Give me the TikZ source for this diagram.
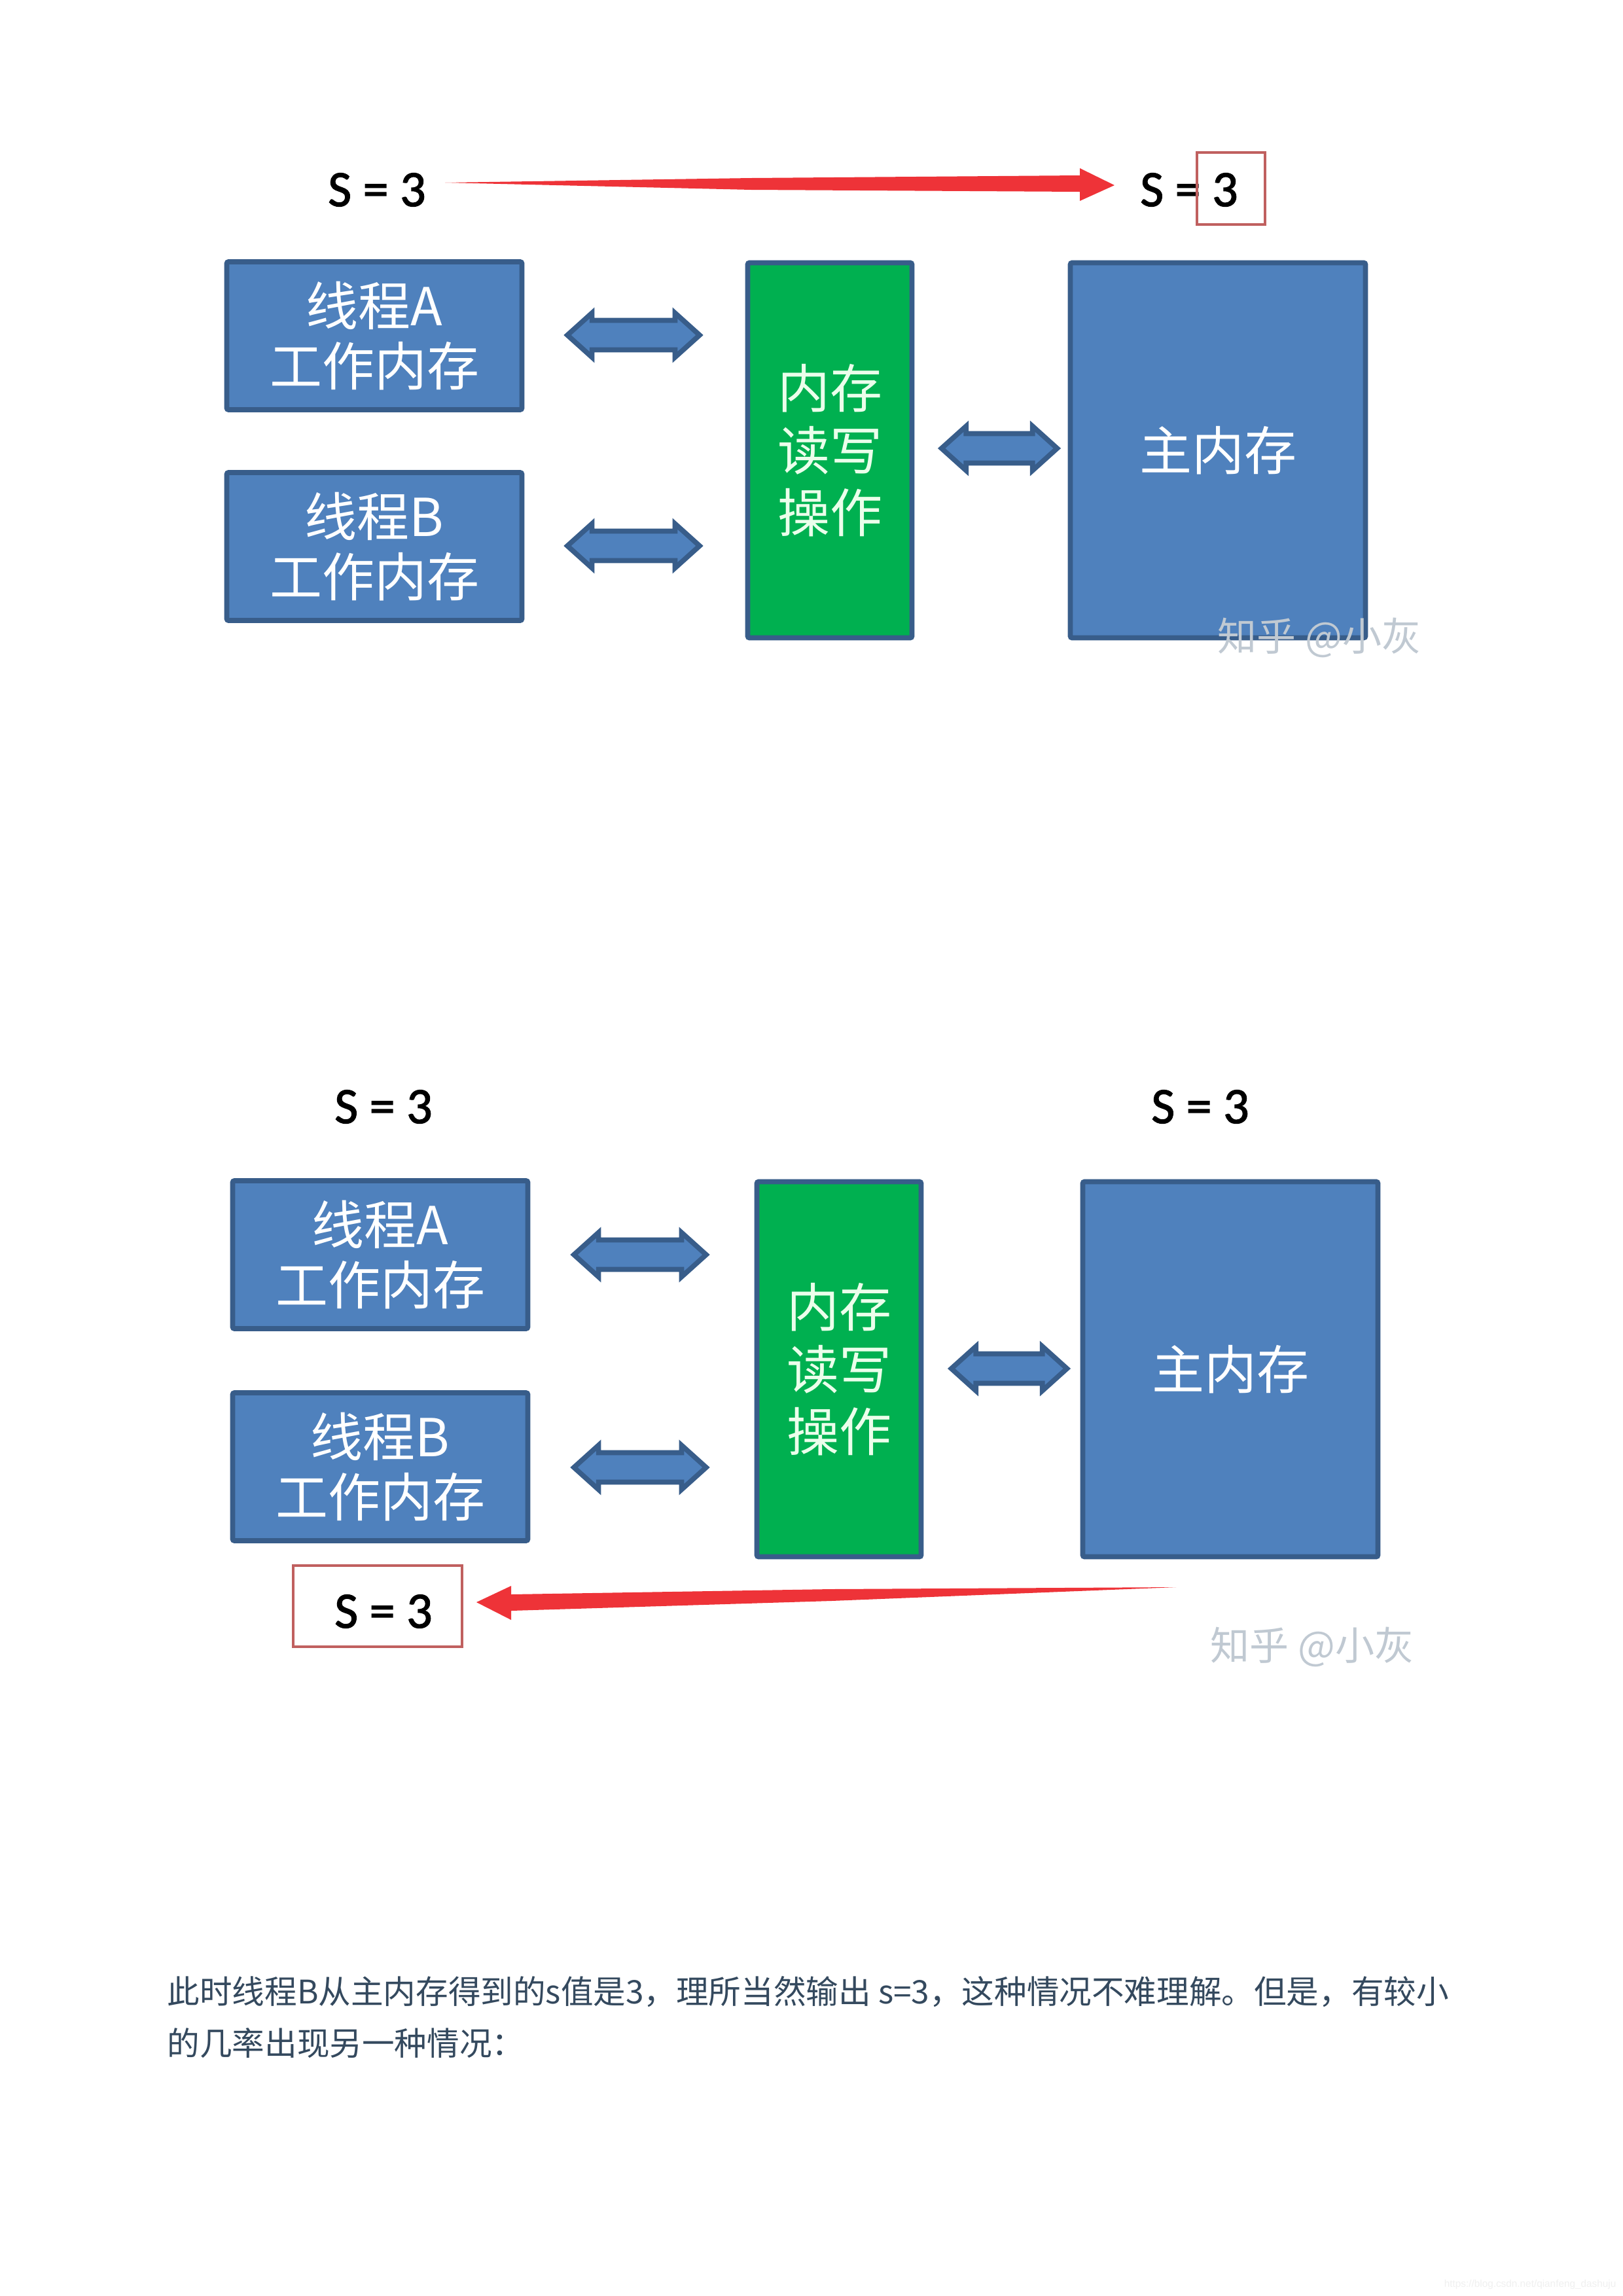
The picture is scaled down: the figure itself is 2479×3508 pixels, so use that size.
\documentclass[tikz,border=0pt]{standalone}
\usepackage{fontspec}
\usetikzlibrary{shapes.arrows}
\setmainfont{Noto Sans CJK SC}
\newfontfamily\calfont[FakeBold=1.6]{Carlito}
\newfontfamily\urlfont{Liberation Sans}
\definecolor{boxblue}{HTML}{4F81BD}
\definecolor{boxline}{HTML}{385D8A}
\definecolor{boxgreen}{HTML}{00B050}
\definecolor{redline}{HTML}{C0605F}
\definecolor{redfill}{HTML}{EE3338}
\definecolor{bodytext}{HTML}{34495E}
\definecolor{wmark}{HTML}{C0C9D2}
\newcommand{\shaftgap}{\rule{0pt}{11.2pt}}
\tikzset{
  wh/.style 2 args={minimum width=#1*0.3pt,minimum height=#2*0.3pt},
  blockbox/.style={rectangle,draw=boxline,fill=boxblue,line width=2.3pt,rounded corners=0.8pt,inner sep=0,outer sep=0,
    text=white,align=center,font=\fontsize{24}{27.6}\selectfont},
  threadbox/.style={blockbox,wh={451}{226}},
  opbox/.style={blockbox,fill=boxgreen,wh={251}{573},text=white!92!green,font=\fontsize{24}{28.5}\selectfont},
  mainbox/.style={blockbox,wh={451}{573}},
  link/.style={double arrow,draw=boxline,fill=boxblue,line width=2.3pt,inner sep=0,outer sep=0,
    double arrow head extend=3.4pt,double arrow tip angle=84,minimum width=18pt},
  linkab/.style={link,minimum height=60.6pt},
  linkm/.style={link,minimum height=53pt},
  value/.style={inner sep=0,font=\calfont\fontsize{23.4}{26}\selectfont,text=black},
  redbox/.style={rectangle,draw=redline,line width=1.1pt,inner sep=0,outer sep=0},
  redarrow/.style={fill=redfill,draw=none},
  wm/.style={inner sep=0,text=wmark,font=\fontsize{18}{20}\selectfont},
  para/.style={inner sep=0,anchor=west,text=bodytext,font=\fontsize{14.88}{20}\selectfont},
}
\begin{document}
\begin{tikzpicture}[x=0.3pt,y=-0.3pt]
\useasboundingbox (0,0) rectangle (2479,3508);
\fill[white] (0,0) rectangle (2479,3508);

% ---- first diagram
\node[threadbox] (a1) at (572,513) {线程A\\工作内存};
\node[threadbox] (b1) at (572,835) {线程B\\工作内存};
\node[opbox] (op1) at (1268,688) {内存\\读写\\操作};
\node[mainbox] (m1) at (1861,688) {主内存};
\node[linkab] (la1) at (968,512) {\shaftgap};
\node[linkab] (lb1) at (968,834) {\shaftgap};
\node[linkm] (lm1) at (1527,685) {\shaftgap};
\node[value] (s1l) at (576,290) {S = 3};
\node[value] (s1r) at (1817,290) {S = 3};
\node[redbox,wh={104}{110}] (r1) at (1881,288) {};
\coordinate (t1) at (680,279);
\coordinate (um1) at (1148,272);
\coordinate (u1) at (1650,268);
\coordinate (v1) at (1650,257);
\coordinate (w1) at (1703,283);
\coordinate (x1) at (1650,307);
\coordinate (y1) at (1650,293);
\coordinate (lm1b) at (1148,290);
\fill[redarrow] (t1) -- (um1) -- (u1) -- (v1) -- (w1) -- (x1) -- (y1) -- (lm1b) -- cycle;
\node[wm] (w1m) at (2016,974) {知乎 @小灰};

% ---- second diagram
\node[threadbox] (a2) at (581,1917) {线程A\\工作内存};
\node[threadbox] (b2) at (581,2241) {线程B\\工作内存};
\node[opbox] (op2) at (1282,2092) {内存\\读写\\操作};
\node[mainbox] (m2) at (1880,2092) {主内存};
\node[linkab] (la2) at (978,1917) {\shaftgap};
\node[linkab] (lb2) at (978,2242) {\shaftgap};
\node[linkm] (lm2) at (1542,2091) {\shaftgap};
\node[value] (s2l) at (586,1691) {S = 3};
\node[value] (s2r) at (1834,1691) {S = 3};
\node[redbox,wh={258}{124}] (r2) at (577,2454) {};
\node[value] (s3) at (586,2462) {S = 3};
\coordinate (t2) at (1797,2425);
\coordinate (um2) at (1270,2428);
\coordinate (u2) at (781,2436);
\coordinate (v2) at (781,2423);
\coordinate (w2) at (728,2448);
\coordinate (x2) at (781,2475);
\coordinate (y2) at (781,2461);
\coordinate (lm2b) at (1270,2446);
\fill[redarrow] (t2) -- (um2) -- (u2) -- (v2) -- (w2) -- (x2) -- (y2) -- (lm2b) -- cycle;
\node[wm] (w2m) at (2005,2516) {知乎 @小灰};

% ---- paragraph
\node[para] (p1) at (255,3043) {此时线程B从主内存得到的s值是3，理所当然输出 s=3，这种情况不难理解。但是，有较小};
\node[para] (p2) at (255,3122) {的几率出现另一种情况：};
\node[inner sep=0,anchor=east,text=black!6,font=\urlfont\fontsize{4.6}{6}\selectfont] (url) at (2470,3490) {https://blog.csdn.net/qianfeng\_dashuju};
\end{tikzpicture}
\end{document}
